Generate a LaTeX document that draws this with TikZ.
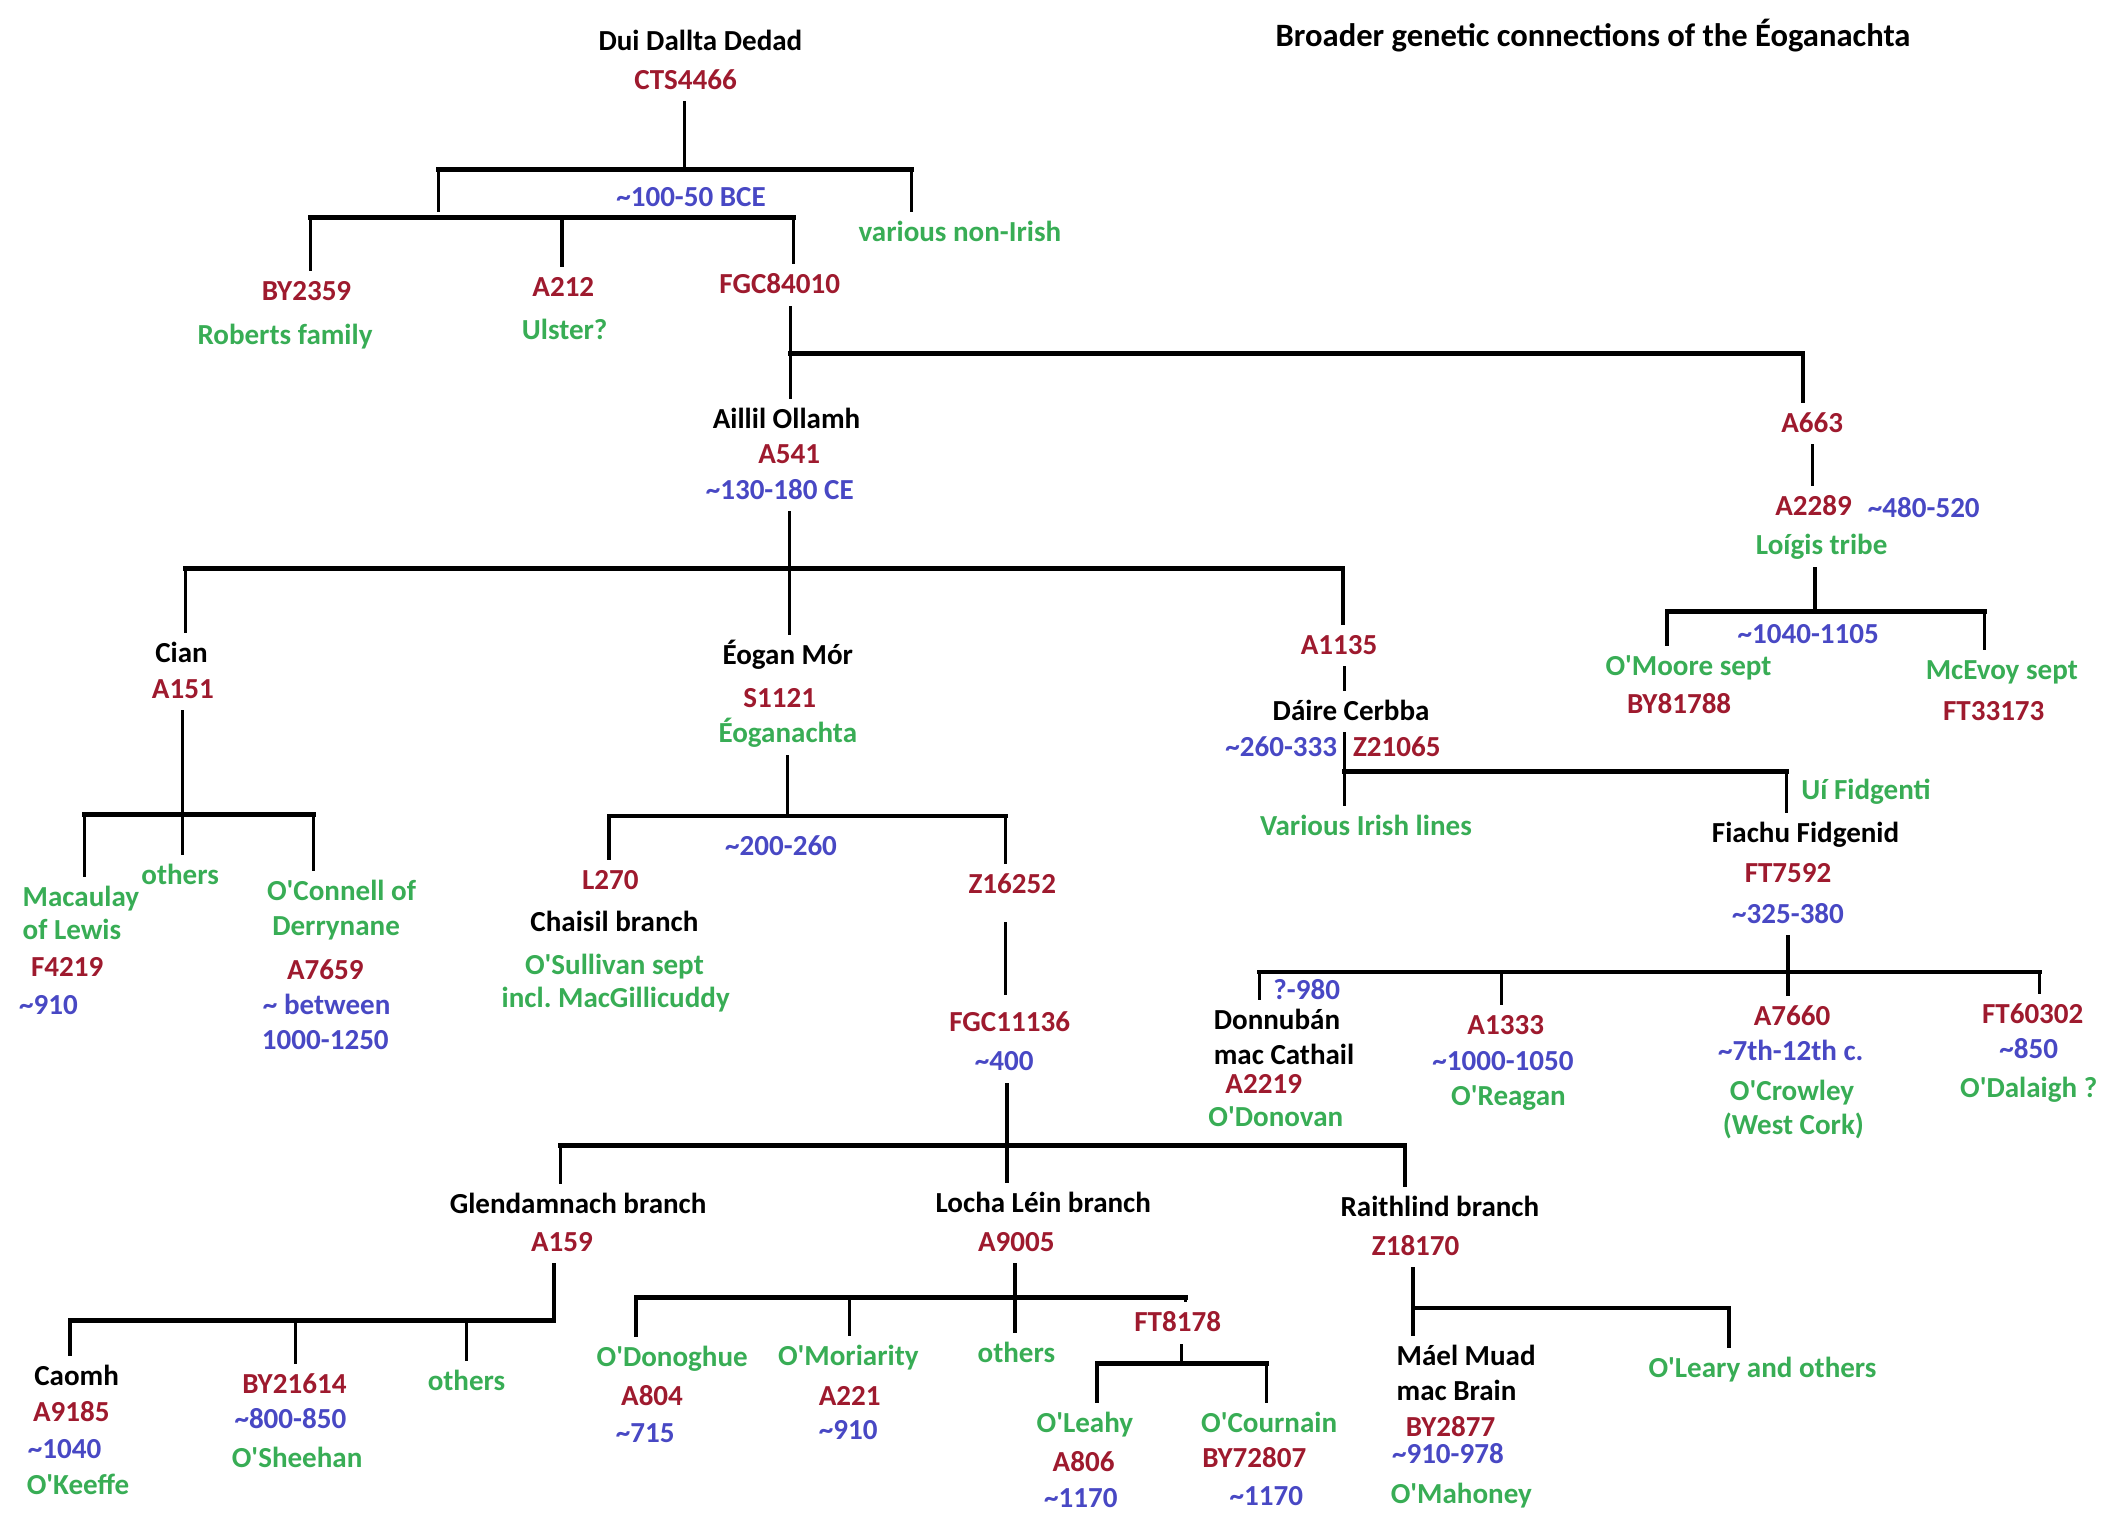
\documentclass[tikz,border=0pt]{standalone}
\usepackage{fontspec}
\setmainfont{Carlito}
\definecolor{snpred}{HTML}{9E1A2E}
\definecolor{dateblue}{HTML}{4848C4}
\definecolor{groupgreen}{HTML}{38AD55}
\newcommand{\treefont}{\fontsize{12.3}{14.2}\selectfont\bfseries}
\newcommand{\apos}{\textquotesingle}
\newcommand{\tl}{\textasciitilde}
\tikzset{
tree text/.style={font=\treefont, inner xsep=2pt, inner ysep=5pt,
  text height=8pt, text depth=0.5pt},
name label/.style={tree text, text=black},
snp label/.style={tree text, text=snpred},
date label/.style={tree text, text=dateblue},
group label/.style={tree text, text=groupgreen},
tree line/.style={draw=black, line width=1.4pt, line cap=rect},
tree bar/.style={draw=black, line width=2pt, line cap=rect}
}
\begin{document}
\begin{tikzpicture}[x=0.02cm,y=-0.02cm]
\useasboundingbox (0,0) rectangle (1568,1137);
\node[name label, font=\fontsize{13.8}{16}\selectfont\bfseries] (title) at (1185,28) {Broader genetic connections of the Éoganachta};
% root
\node[name label] (dui) at (521,31) {Dui Dallta Dedad};
\node[snp label] (cts) at (510,60) {CTS4466};
\node[date label] (bce) at (514,147) {\tl100-50 BCE};
\node[group label] (nonirish) at (714,173) {various non-Irish};
\node[snp label] (by2359) at (228,217) {BY2359};
\node[group label] (roberts) at (212,250) {Roberts family};
\node[snp label] (a212) at (419,214) {A212};
\node[group label] (ulster) at (420,246) {Ulster?};
\node[snp label] (fgc84010) at (580,212) {FGC84010};
% Loigis side
\node[snp label] (a663) at (1348,315) {A663};
\node[snp label] (a2289) at (1349,377) {A2289};
\node[date label] (d480) at (1431,378) {\tl480-520};
\node[group label] (loigis) at (1355,406) {Loígis tribe};
\node[date label] (d1040) at (1345,472) {\tl1040-1105};
\node[group label] (omoore) at (1256,496) {O\apos Moore sept};
\node[snp label] (by81788) at (1249,524) {BY81788};
\node[group label] (mcevoy) at (1489,499) {McEvoy sept};
\node[snp label] (ft33173) at (1483,529) {FT33173};
% Aillil Ollamh
\node[name label] (aillil) at (585,312) {Aillil Ollamh};
\node[snp label] (a541) at (587,338) {A541};
\node[date label] (d130) at (580,365) {\tl130-180 CE};
% Cian
\node[name label] (cian) at (135,486) {Cian};
\node[snp label] (a151) at (136,513) {A151};
\node[group label] (others1) at (134,651) {others};
\node[group label, anchor=west] (macaulay) at (13,668) {Macaulay};
\node[group label, anchor=west] (oflewis) at (13,692) {of Lewis};
\node[snp label] (f4219) at (50,720) {F4219};
\node[date label] (d910a) at (36,748) {\tl910};
\node[group label] (oconnell) at (254,663) {O\apos Connell of};
\node[group label] (derrynane) at (250,689) {Derrynane};
\node[snp label] (a7659) at (242,722) {A7659};
\node[date label] (dbetween) at (243,748) {\tl{} between};
\node[date label] (d1000a) at (242,774) {1000-1250};
% Eogan Mor
\node[name label] (eogan) at (586,488) {Éogan Mór};
\node[snp label] (s1121) at (580,520) {S1121};
\node[group label] (eoganachta) at (586,546) {Éoganachta};
\node[date label] (d200) at (581,630) {\tl200-260};
\node[snp label] (l270) at (454,655) {L270};
\node[name label] (chaisil) at (457,686) {Chaisil branch};
\node[group label] (osullivan) at (457,718) {O\apos Sullivan sept};
\node[group label] (macgill) at (458,743) {incl.\ MacGillicuddy};
\node[snp label] (z16252) at (753,658) {Z16252};
\node[snp label] (fgc11136) at (751,761) {FGC11136};
\node[date label] (d400) at (747,790) {\tl400};
% Glendamnach
\node[name label] (glend) at (430,896) {Glendamnach branch};
\node[snp label] (a159) at (418,924) {A159};
\node[name label] (caomh) at (57,1024) {Caomh};
\node[snp label] (a9185) at (53,1051) {A9185};
\node[date label] (d1040b) at (48,1078) {\tl1040};
\node[group label] (okeeffe) at (58,1105) {O\apos Keeffe};
\node[snp label] (by21614) at (219,1030) {BY21614};
\node[date label] (d800) at (216,1056) {\tl800-850};
\node[group label] (osheehan) at (221,1085) {O\apos Sheehan};
\node[group label] (others2) at (347,1028) {others};
% Locha Lein
\node[name label] (locha) at (776,895) {Locha Léin branch};
\node[snp label] (a9005) at (756,924) {A9005};
\node[group label] (odonoghue) at (500,1010) {O\apos Donoghue};
\node[snp label] (a804) at (485,1039) {A804};
\node[date label] (d715) at (480,1066) {\tl715};
\node[group label] (omoriarity) at (631,1009) {O\apos Moriarity};
\node[snp label] (a221) at (632,1039) {A221};
\node[date label] (d910b) at (631,1064) {\tl910};
\node[group label] (others3) at (756,1007) {others};
\node[snp label] (ft8178) at (876,984) {FT8178};
\node[group label] (oleahy) at (807,1059) {O\apos Leahy};
\node[snp label] (a806) at (806,1088) {A806};
\node[date label] (d1170a) at (804,1115) {\tl1170};
\node[group label] (ocournain) at (944,1059) {O\apos Cournain};
\node[snp label] (by72807) at (933,1085) {BY72807};
\node[date label] (d1170b) at (942,1113) {\tl1170};
% Raithlind
\node[name label] (raith) at (1071,898) {Raithlind branch};
\node[snp label] (z18170) at (1053,927) {Z18170};
\node[name label, anchor=west] (mael) at (1035,1009) {Máel Muad};
\node[name label, anchor=west] (macbrain) at (1035,1035) {mac Brain};
\node[snp label] (by2877) at (1079,1062) {BY2877};
\node[date label] (d910c) at (1077,1082) {\tl910-978};
\node[group label] (omahoney) at (1087,1112) {O\apos Mahoney};
\node[group label] (oleary) at (1311,1018) {O\apos Leary and others};
% Daire Cerbba
\node[snp label] (a1135) at (996,480) {A1135};
\node[name label] (daire) at (1005,529) {Dáire Cerbba};
\node[date label] (d260) at (953,556) {\tl260-333};
\node[snp label] (z21065) at (1039,556) {Z21065};
\node[group label] (various) at (1016,615) {Various Irish lines};
\node[group label] (uifidgenti) at (1388,588) {Uí Fidgenti};
\node[name label] (fiachu) at (1343,620) {Fiachu Fidgenid};
\node[snp label] (ft7592) at (1330,650) {FT7592};
\node[date label] (d325) at (1330,680) {\tl325-380};
\node[date label] (d980) at (972,737) {?-980};
\node[name label, anchor=west] (donnuban) at (899,759) {Donnubán};
\node[name label, anchor=west] (maccathail) at (899,785) {mac Cathail};
\node[snp label] (a2219) at (940,807) {A2219};
\node[group label] (odonovan) at (949,831) {O\apos Donovan};
\node[snp label] (a1333) at (1120,763) {A1333};
\node[date label] (d1000b) at (1118,790) {\tl1000-1050};
\node[group label] (oreagan) at (1122,816) {O\apos Reagan};
\node[snp label] (a7660) at (1333,756) {A7660};
\node[date label] (d7th) at (1332,782) {\tl7th-12th c.};
\node[group label] (ocrowley) at (1333,812) {O\apos Crowley};
\node[group label] (westcork) at (1334,837) {(West Cork)};
\node[snp label] (ft60302) at (1512,755) {FT60302};
\node[date label] (d850) at (1509,781) {\tl850};
\node[group label] (odalaigh) at (1509,810) {O\apos Dalaigh ?};

% bar coordinates
\coordinate (b1w) at (326,126); \coordinate (b1m) at (509,126); \coordinate (b1e) at (678,126);
\coordinate (b2w) at (231,162); \coordinate (b2m) at (418,162); \coordinate (b2e) at (590,162);
\coordinate (b3w) at (588,263); \coordinate (b3e) at (1341,263);
\coordinate (b4w) at (1240,455); \coordinate (b4m) at (1350,455); \coordinate (b4e) at (1476,455);
\coordinate (b5w) at (138,423); \coordinate (b5m) at (587,423); \coordinate (b5e) at (999,423);
\coordinate (b6w) at (63,606); \coordinate (b6m) at (136,606); \coordinate (b6e) at (233,606);
\coordinate (b7w) at (453,607); \coordinate (b7m) at (586,607); \coordinate (b7e) at (748,607);
\coordinate (b8w) at (417,852); \coordinate (b8m) at (749,852); \coordinate (b8e) at (1045,852);
\coordinate (b9w) at (52,982); \coordinate (b9m) at (220,982); \coordinate (b9o) at (347,982); \coordinate (b9e) at (412,982);
\coordinate (b10w) at (473,965); \coordinate (b10a) at (632,965); \coordinate (b10m) at (755,965); \coordinate (b10e) at (882,965);
\coordinate (b11w) at (816,1014); \coordinate (b11m) at (879,1014); \coordinate (b11e) at (942,1014);
\coordinate (b12w) at (1051,973); \coordinate (b12e) at (1286,973);
\coordinate (b13w) at (1000,574); \coordinate (b13e) at (1329,574);
\coordinate (b14w) at (937,723); \coordinate (b14a) at (1117,723); \coordinate (b14m) at (1330,723); \coordinate (b14e) at (1517,723);

% top split
\draw[tree line] (cts.south -| b1m) -- (b1m);
\draw[tree bar] (b1w) -- (b1e);
\draw[tree line] (b1w) -- (b1w |- nonirish.north);
\draw[tree line] (b1e) -- (b1e |- nonirish.north);
\draw[tree bar] (b2w) -- (b2e);
\draw[tree line] (b2w) -- (b2w |- by2359.north);
\draw[tree line] (b2m) -- (b2m |- a212.north);
\draw[tree line] (b2e) -- (b2e |- fgc84010.north);
% FGC84010
\draw[tree line] (fgc84010.south -| b3w) -- (aillil.north -| b3w);
\draw[tree bar] (b3w) -- (b3e);
\draw[tree line] (b3e) -- (b3e |- a663.north);
\draw[tree line] (a663.south) -- (a663.south |- a2289.north);
\draw[tree line] (loigis.south -| b4m) -- (b4m);
\draw[tree bar] (b4w) -- (b4e);
\draw[tree line] (b4w) -- (b4w |- omoore.north);
\draw[tree line] (b4e) -- (b4e |- mcevoy.north);
% A541
\draw[tree line] (d130.south -| b5m) -- (eogan.north -| b5m);
\draw[tree bar] (b5w) -- (b5e);
\draw[tree line] (b5w) -- (b5w |- cian.north);
\draw[tree line] (b5e) -- (b5e |- a1135.north);
% Cian
\draw[tree line] (a151.south -| b6m) -- (others1.north -| b6m);
\draw[tree bar] (b6w) -- (b6e);
\draw[tree line] (b6w) -- (b6w |- macaulay.north);
\draw[tree line] (b6e) -- (b6e |- oconnell.north);
% Eogan Mor
\draw[tree line] (eoganachta.south -| b7m) -- (b7m);
\draw[tree bar] (b7w) -- (b7e);
\draw[tree line] (b7w) -- (b7w |- l270.north);
\draw[tree line] (b7e) -- (b7e |- z16252.north);
\draw[tree line, shorten <=7pt, shorten >=3pt] (z16252.south -| b7e) -- (fgc11136.north -| b7e);
\draw[tree line] (d400.south -| b8m) -- (locha.north -| b8m);
\draw[tree bar] (b8w) -- (b8e);
\draw[tree line] (b8w) -- (b8w |- glend.north);
\draw[tree line] (b8e) -- (b8e |- raith.north);
% Glendamnach
\draw[tree line] (a159.south -| b9e) -- (b9e);
\draw[tree bar] (b9w) -- (b9e);
\draw[tree line] (b9w) -- (b9w |- caomh.north);
\draw[tree line] (b9m) -- (b9m |- by21614.north);
\draw[tree line] (b9o) -- (b9o |- others2.north);
% Locha Lein
\draw[tree line] (a9005.south -| b10m) -- (b10m);
\draw[tree bar] (b10w) -- (b10e);
\draw[tree line] (b10w) -- (b10w |- odonoghue.north);
\draw[tree line] (b10a) -- (b10a |- omoriarity.north);
\draw[tree line] (b10m) -- (b10m |- others3.north);
\draw[tree line] (b10e) -- (b10e |- ft8178.north);
\draw[tree line] (ft8178.south -| b11m) -- (b11m);
\draw[tree bar] (b11w) -- (b11e);
\draw[tree line] (b11w) -- (b11w |- oleahy.north);
\draw[tree line] (b11e) -- (b11e |- ocournain.north);
% Raithlind
\draw[tree line] (z18170.south -| b12w) -- (mael.north -| b12w);
\draw[tree bar] (b12w) -- (b12e);
\draw[tree line] (b12e) -- (b12e |- oleary.north);
% Daire Cerbba
\draw[tree line] (a1135.south -| b13w) -- (daire.north -| b13w);
\draw[tree line] (daire.south -| b13w) -- (various.north -| b13w);
\draw[tree bar] (b13w) -- (b13e);
\draw[tree line] (b13e) -- (b13e |- fiachu.north);
\draw[tree line] (d325.south -| b14m) -- (a7660.north -| b14m);
\draw[tree bar] (b14w) -- (b14e);
\draw[tree line] (b14w) -- (b14w |- donnuban.north);
\draw[tree line] (b14a) -- (b14a |- a1333.north);
\draw[tree line] (b14e) -- (b14e |- ft60302.north);
\end{tikzpicture}
\end{document}
